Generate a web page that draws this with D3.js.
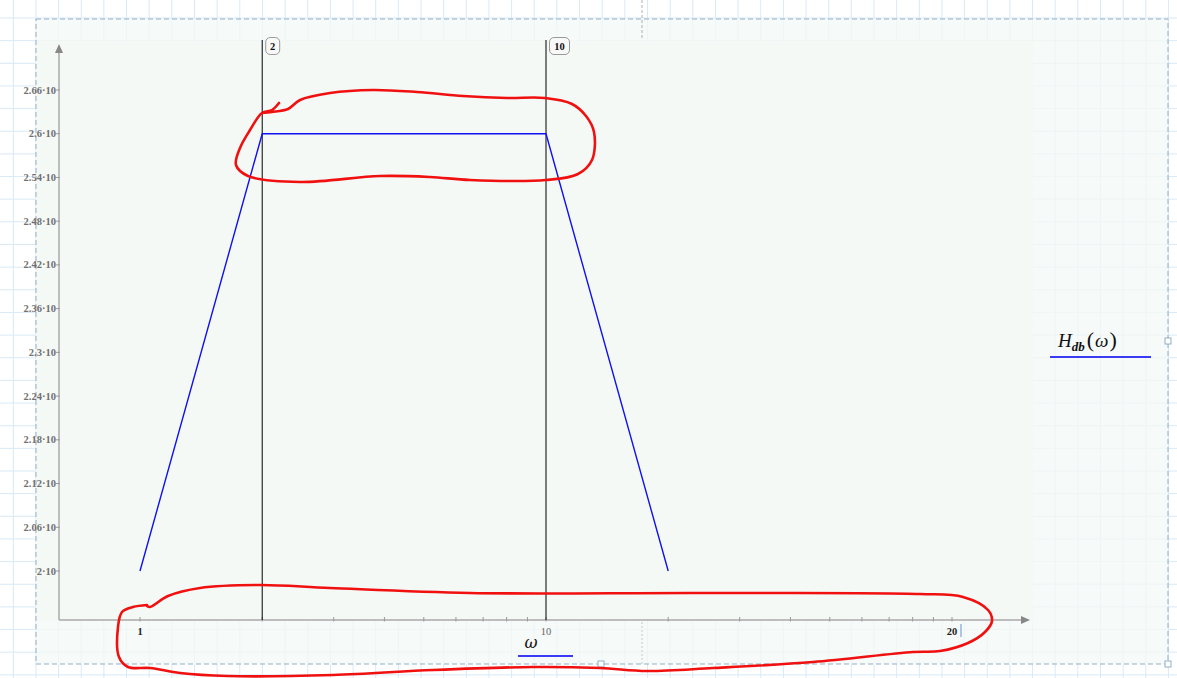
<!DOCTYPE html>
<html>
<head>
<meta charset="utf-8">
<script src="https://cdn.jsdelivr.net/npm/d3@7"></script>
<style>
  body { margin: 0; background: #fff; }
  svg { display: block; }
</style>
</head>
<body>
<svg></svg>
<script>
const width = 1177;
const height = 678;
const svg = d3.select("svg").attr("width", width).attr("height", height);

// data
const omega = [1, 2, 10, 20];
const hdb = [2.0, 2.6, 2.6, 2.0];
const markers = [2, 10];
const markerLabels = ["2", "10"];
const yTicks = [2, 2.06, 2.12, 2.18, 2.24, 2.3, 2.36, 2.42, 2.48, 2.54, 2.6, 2.66];
const yTickLabels = ["2\u00b710", "2.06\u00b710", "2.12\u00b710", "2.18\u00b710", "2.24\u00b710", "2.3\u00b710",
  "2.36\u00b710", "2.42\u00b710", "2.48\u00b710", "2.54\u00b710", "2.6\u00b710", "2.66\u00b710"];
const xMinorTicks = [1, 2, 3, 4, 5, 6, 7, 8, 9, 10, 20, 30, 40, 50, 60, 70, 80, 90, 100];
const xLabelTicks = [1, 10, 100];
const xTickLabels = ["1", "10", "20"];

// freehand red ink drawn over the worksheet (screen pixels)
const inkTop = [[279,103],[272,110],[262,113],[250,130],[240,148],[236,165],[248,176],[300,182],
  [380,176],[430,177],[470,180],[546,180],[578,174],[592,160],[594,132],[586,116],[572,104],
  [545,98],[507,98],[463,96],[417,92],[373,90],[330,93],[300,100],[288,109],[272,112],[262,113]];
const inkBottom = [[147,606],[150,607],[168,596],[200,588],[260,585],[330,588],[470,593],[700,593],
  [920,594],[963,597],[988,610],[992,621],[985,632],[968,643],[940,651],[913,652],[813,662],
  [713,668],[647,671],[600,668],[533,667],[433,670],[333,675],[227,676],[180,673],[150,668],
  [128,667],[119,657],[118,627],[122,612],[133,607],[147,605]];

const x = d3.scaleLog().domain([1, 10]).range([140, 546]);
const y = d3.scaleLinear().domain([2, 2.66]).range([571, 90]);

const axisX0 = 59, axisX1 = 1030, axisY = 620, axisTop = 44;

// worksheet grid
const grid = svg.append("g");
for (let gx = 13.3; gx < width; gx += 22.65) {
  grid.append("line").attr("x1", gx).attr("x2", gx).attr("y1", 0).attr("y2", height)
    .attr("stroke", "#d9e9f6").attr("stroke-width", 1);
}
for (let gy = 18; gy < height; gy += 22.65) {
  grid.append("line").attr("x1", 0).attr("x2", width).attr("y1", gy).attr("y2", gy)
    .attr("stroke", "#d9e9f6").attr("stroke-width", 1);
}

// plot region
svg.append("rect")
  .attr("x", 36).attr("y", 19).attr("width", 1132).attr("height", 645)
  .attr("fill", "#f4f8f6").attr("fill-opacity", 0.78);
svg.append("rect")
  .attr("x", 36).attr("y", 41).attr("width", 997).attr("height", axisY + 1 - 41)
  .attr("fill", "#f5f9f6");
svg.append("rect")
  .attr("x", 36).attr("y", 19).attr("width", 1132).attr("height", 645)
  .attr("fill", "none").attr("stroke", "#8fb0c8").attr("stroke-dasharray", "5,3");

// small guide lines & handles
svg.append("line").attr("x1", 642).attr("x2", 642).attr("y1", 0).attr("y2", 40)
  .attr("stroke", "#b0b0b0").attr("stroke-dasharray", "3,2");
svg.append("line").attr("x1", 642).attr("x2", 642).attr("y1", 622).attr("y2", 664)
  .attr("stroke", "#c8c8c8").attr("stroke-dasharray", "2,2");
[[601, 664], [1168, 341], [1168, 664]].forEach(([hx, hy]) => {
  svg.append("rect").attr("x", hx - 3).attr("y", hy - 3).attr("width", 6).attr("height", 6)
    .attr("fill", "#fff").attr("stroke", "#8fb0c8");
});

// axes
const axisColor = "#a8a8a8";
svg.append("line").attr("x1", axisX0).attr("x2", axisX1 - 6).attr("y1", axisY).attr("y2", axisY)
  .attr("stroke", axisColor).attr("stroke-width", 1.5);
svg.append("path").attr("d", `M${axisX1},${axisY} L${axisX1 - 9},${axisY - 4} L${axisX1 - 9},${axisY + 4} Z`)
  .attr("fill", "#888");
svg.append("line").attr("x1", axisX0).attr("x2", axisX0).attr("y1", axisY).attr("y2", axisTop + 6)
  .attr("stroke", axisColor).attr("stroke-width", 1.5);
svg.append("path").attr("d", `M${axisX0},${axisTop} L${axisX0 - 4},${axisTop + 9} L${axisX0 + 4},${axisTop + 9} Z`)
  .attr("fill", "#888");

// y ticks
const yAxis = svg.append("g");
yTicks.forEach((v, i) => {
  yAxis.append("line").attr("x1", axisX0 - 3).attr("x2", axisX0 + 1)
    .attr("y1", y(v)).attr("y2", y(v)).attr("stroke", "#999");
  yAxis.append("text")
    .attr("x", axisX0 - 3).attr("y", y(v) + 3.5)
    .attr("text-anchor", "end")
    .attr("font-family", "Liberation Serif, serif")
    .attr("font-size", 10.5)
    .attr("font-weight", "bold")
    .attr("fill", "#707070")
    .text(yTickLabels[i]);
});

// x ticks
const xAxis = svg.append("g");
xMinorTicks.forEach(v => {
  xAxis.append("line").attr("x1", x(v)).attr("x2", x(v))
    .attr("y1", axisY - 3).attr("y2", axisY + 1.5).attr("stroke", "#999");
});
xLabelTicks.forEach((v, i) => {
  xAxis.append("text")
    .attr("x", x(v)).attr("y", axisY + 15)
    .attr("text-anchor", "middle")
    .attr("font-family", "Liberation Serif, serif")
    .attr("font-size", 10.5)
    .attr("font-weight", i === 1 ? "normal" : "bold")
    .attr("fill", i === 1 ? "#666" : "#222")
    .text(xTickLabels[i]);
});
// text cursor after the last label
svg.append("line").attr("x1", x(100) + 9).attr("x2", x(100) + 9)
  .attr("y1", axisY + 4).attr("y2", axisY + 17).attr("stroke", "#6a8fd8");

// marker lines
markers.forEach((m, i) => {
  svg.append("line").attr("x1", x(m)).attr("x2", x(m)).attr("y1", 40).attr("y2", axisY)
    .attr("stroke", "#000").attr("stroke-width", 1);
  const w = markerLabels[i].length * 6 + 8;
  svg.append("rect").attr("x", x(m) + 3.5).attr("y", 37.5).attr("width", w).attr("height", 17)
    .attr("rx", 4.5).attr("fill", "#f8f8f8").attr("stroke", "#999");
  svg.append("text").attr("x", x(m) + 3.5 + w / 2).attr("y", 50)
    .attr("text-anchor", "middle")
    .attr("font-family", "Liberation Serif, serif")
    .attr("font-size", 10.5).attr("font-weight", "bold").attr("fill", "#111")
    .text(markerLabels[i]);
});

// trace
const line = d3.line().x((d, i) => x(omega[i])).y((d, i) => y(hdb[i]));
svg.append("path")
  .attr("d", line(omega))
  .attr("fill", "none")
  .attr("stroke", "#1010f0")
  .attr("stroke-width", 1.4);

// axis label
svg.append("text").attr("x", 531).attr("y", 648)
  .attr("text-anchor", "middle")
  .attr("font-family", "DejaVu Serif, serif").attr("font-style", "italic")
  .attr("font-size", 16).attr("fill", "#111")
  .text("\u03c9");
svg.append("line").attr("x1", 518).attr("x2", 573).attr("y1", 656).attr("y2", 656)
  .attr("stroke", "#3b3bf5").attr("stroke-width", 2);

// legend / y label
const lg = svg.append("text").attr("x", 1058).attr("y", 347)
  .attr("font-family", "Liberation Serif, serif").attr("font-style", "italic")
  .attr("font-size", 19).attr("fill", "#111");
lg.append("tspan").text("H");
lg.append("tspan").attr("dy", 4).attr("font-size", 13).attr("font-weight", "bold").text("db");
lg.append("tspan").attr("dy", -4).attr("dx", 2).attr("font-style", "normal").attr("font-size", 22).text("(");
lg.append("tspan").attr("dx", 1).text("\u03c9");
lg.append("tspan").attr("dx", 1).attr("font-style", "normal").attr("font-size", 22).text(")");
svg.append("line").attr("x1", 1050).attr("x2", 1151).attr("y1", 357).attr("y2", 357)
  .attr("stroke", "#3b3bf5").attr("stroke-width", 2);

// red ink
const ink = d3.line().curve(d3.curveCatmullRom.alpha(0.5));
[inkTop, inkBottom].forEach(pts => {
  svg.append("path").attr("d", ink(pts))
    .attr("fill", "none").attr("stroke", "#f01010")
    .attr("stroke-width", 2.6).attr("stroke-linecap", "round").attr("stroke-linejoin", "round");
});
</script>
</body>
</html>
